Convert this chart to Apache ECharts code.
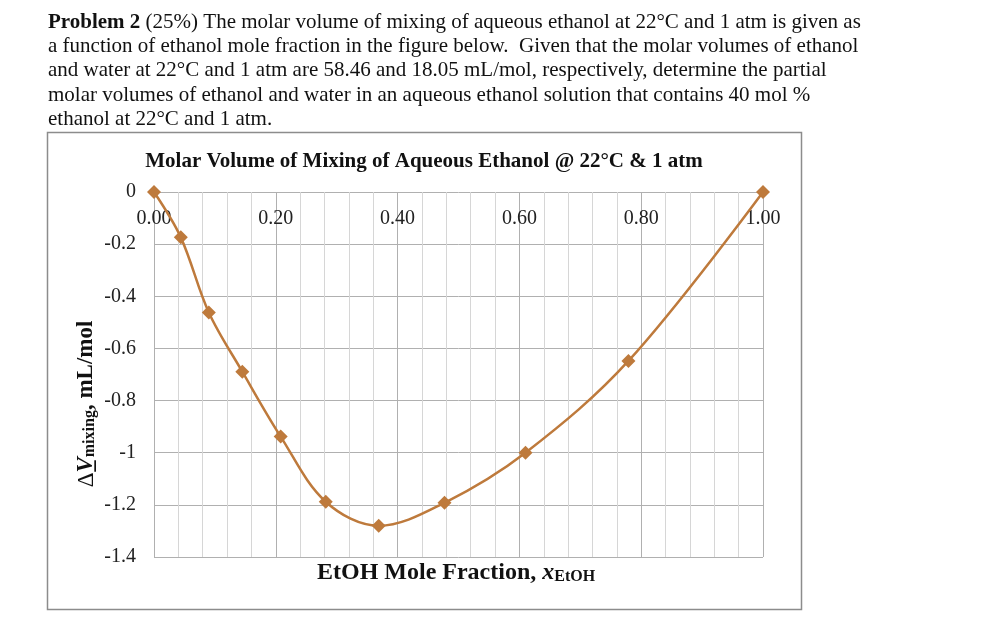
<!DOCTYPE html>
<html>
<head>
<meta charset="utf-8">
<script src="https://cdn.jsdelivr.net/npm/echarts@6/dist/echarts.min.js"></script>
<style>
  html, body { margin: 0; padding: 0; background: #fff; }
  #chart { width: 984px; height: 637px; }
</style>
</head>
<body>
<div id="chart"></div>
<script>
// mole fraction of ethanol and molar volume of mixing (mL/mol)
const xEtOH = [0, 0.044, 0.090, 0.145, 0.208, 0.282, 0.369, 0.477, 0.610, 0.779, 1.0];
const dVmix = [0, -0.174, -0.462, -0.689, -0.938, -1.188, -1.280, -1.192, -1.000, -0.648, 0];

const problemLines = [
  '{b|Problem 2} (25%) The molar volume of mixing of aqueous ethanol at 22°C and 1 atm is given as',
  'a function of ethanol mole fraction in the figure below.  Given that the molar volumes of ethanol',
  'and water at 22°C and 1 atm are 58.46 and 18.05 mL/mol, respectively, determine the partial',
  'molar volumes of ethanol and water in an aqueous ethanol solution that contains 40 mol %',
  'ethanol at 22°C and 1 atm.'
];

const serif = '"Liberation Serif", "Times New Roman", serif';
const lineColor = '#BE7A3C';

const chart = echarts.init(document.getElementById('chart'));

const textGraphics = problemLines.map((t, i) => ({
  type: 'text',
  left: 48,
  top: 12 + i * 24.2,
  style: {
    text: t,
    fontFamily: serif,
    fontSize: 21,
    fill: '#111',
    rich: {
      b: { fontFamily: serif, fontSize: 21, fontWeight: 'bold', fill: '#111' }
    }
  }
}));

const option = {
  animation: false,
  title: {
    text: 'Molar Volume of Mixing of Aqueous Ethanol @ 22°C & 1 atm',
    left: 424,
    textAlign: 'center',
    top: 146,
    textStyle: { fontFamily: serif, fontSize: 21, fontWeight: 'bold', color: '#111' }
  },
  grid: { left: 154, right: 221, top: 192, bottom: 80 },
  graphic: [
    {
      type: 'rect',
      shape: { x: 47.5, y: 132.5, width: 754, height: 477 },
      style: { fill: 'none', stroke: '#8c8c8c', lineWidth: 1.5 },
      z: -1
    },
    ...textGraphics,
    {
      // x axis title
      type: 'text',
      left: 317,
      top: 561,
      style: {
        text: '{n|EtOH Mole Fraction, }{x|x}{s|EtOH}',
        rich: {
          n: { fontFamily: serif, fontSize: 24, fontWeight: 'bold', fill: '#111', lineHeight: 28, verticalAlign: 'bottom' },
          x: { fontFamily: serif, fontSize: 24, fontWeight: 'bold', fontStyle: 'italic', fill: '#111', lineHeight: 28, verticalAlign: 'bottom' },
          s: { fontFamily: serif, fontSize: 16, fontWeight: 'bold', fill: '#111', lineHeight: 16, verticalAlign: 'bottom' }
        }
      }
    },
    {
      // y axis title, rotated
      type: 'text',
      x: 85,
      y: 404,
      rotation: Math.PI / 2,
      style: {
        text: '{d|Δ}{v|V\u0332}{s|mixing}{n|, mL/mol}',
        align: 'center',
        verticalAlign: 'middle',
        rich: {
          d: { fontFamily: serif, fontSize: 23, fill: '#111', lineHeight: 26, verticalAlign: 'bottom' },
          v: { fontFamily: serif, fontSize: 23, fontWeight: 'bold', fontStyle: 'italic', fill: '#111', lineHeight: 26, verticalAlign: 'bottom' },
          s: { fontFamily: serif, fontSize: 16, fontWeight: 'bold', fill: '#111', lineHeight: 16, verticalAlign: 'bottom' },
          n: { fontFamily: serif, fontSize: 23, fontWeight: 'bold', fill: '#111', lineHeight: 26, verticalAlign: 'bottom' }
        }
      }
    }
  ],
  xAxis: {
    type: 'value',
    position: 'top',
    min: 0,
    max: 1,
    interval: 0.2,
    axisLine: { show: false },
    axisTick: { show: false },
    axisLabel: {
      inside: true,
      margin: 17,
      formatter: v => v.toFixed(2),
      fontFamily: serif,
      fontSize: 20,
      color: '#222'
    },
    splitLine: { show: true, lineStyle: { color: '#b0b0b0', width: 1 } },
    minorTick: { show: false, splitNumber: 5 },
    minorSplitLine: { show: true, lineStyle: { color: '#d6d6d6', width: 1 } }
  },
  yAxis: {
    type: 'value',
    min: -1.4,
    max: 0,
    interval: 0.2,
    axisLine: { show: false },
    axisTick: { show: false },
    axisLabel: {
      margin: 18,
      formatter: v => String(Math.round(v * 10) / 10),
      fontFamily: serif,
      fontSize: 20,
      color: '#222'
    },
    splitLine: { show: true, lineStyle: { color: '#b0b0b0', width: 1 } }
  },
  series: [
    {
      type: 'line',
      data: xEtOH.map((x, i) => [x, dVmix[i]]),
      smooth: 0.35,
      symbol: 'diamond',
      symbolSize: 14,
      lineStyle: { color: lineColor, width: 2.5 },
      itemStyle: { color: lineColor },
      z: 5
    }
  ]
};

chart.setOption(option);
// title centred on the chart box, nudged to match the reference
chart.setOption({ title: { left: 419 } });
window.addEventListener('resize', chart.resize);
</script>
</body>
</html>
